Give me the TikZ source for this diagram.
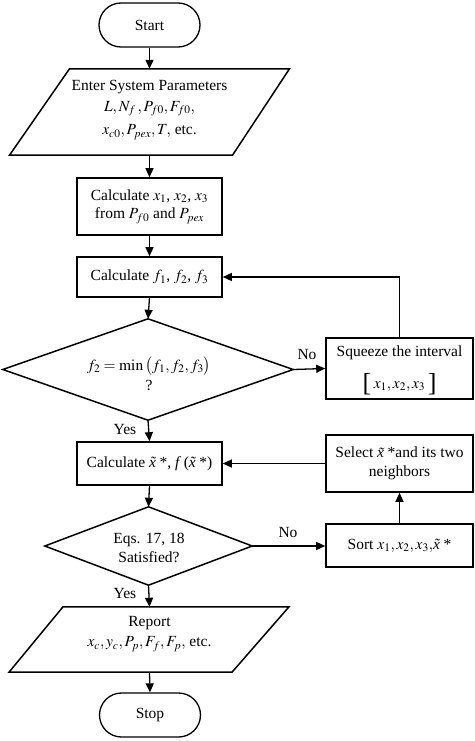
\documentclass[tikz,border=0pt]{standalone}
\usepackage{mathptmx}
\usepackage{fontspec}
\setmainfont{Liberation Serif}
\usetikzlibrary{arrows.meta}
\newcommand{\fsz}{\fontsize{15.5}{18.5}\selectfont}
\newcommand{\xs}{\textit{x̃}\kern-2.5pt*}
\newcommand{\bigbr}[1]{\raisebox{-3pt}{\fontsize{26}{26}\selectfont #1}}
\begin{document}
\begin{tikzpicture}[x=1pt,y=-1pt,
  every node/.style={font=\fsz, inner sep=0pt, align=center},
  procbox/.style={draw, line width=1.6pt, minimum width=145pt},
  termbox/.style={draw, line width=1.3pt, rounded corners=22pt, minimum width=101pt, minimum height=44pt},
  frame/.style={inner sep=0pt},
  outline/.style={line width=1.5pt, line join=miter},
  arr/.style={line width=1.3pt, -{Triangle[length=9pt,width=8pt]}},
  lbl/.style={font=\fsz}
]
\useasboundingbox (0,0) rectangle (474,741);

% nodes
\node[termbox] (start) at (149.5,25) {Start};

\node[frame, minimum width=222pt, minimum height=86pt] (par) at (149.5,112) {};
\node (part) at (149.5,110) {Enter System Parameters\\[2pt] $L, N_f\,, P_{f0}, F_{f0},$\\[5pt] $x_{c0}, P_{pex}, T,$ etc.};

\node[procbox, minimum height=57pt] (calc1) at (149.5,206.5) {Calculate $x_1$, $x_2$, $x_3$\\ from $P_{f0}$ and $P_{pex}$};

\node[procbox, minimum height=40pt] (calcf) at (149.5,277) {Calculate $f_1$, $f_2$, $f_3$};

\node[frame, minimum width=290pt, minimum height=101pt] (d1) at (148,369.5) {};
\node (d1t) at (149,374) {$f_2=\min\big(f_1,f_2,f_3\big)$\\[2pt] ?};

\node[procbox, minimum width=147pt, minimum height=61pt] (sq) at (399.5,368.5) {};
\node (sqa) at (399.5,353) {Squeeze the interval};
\node (sqb) at (399.5,384) {\bigbr{[}\,$x_1,x_2,x_3$\,\bigbr{]}};

\node[procbox, minimum height=43pt] (calcx) at (149.5,463.5) {Calculate \xs, \textit{f}\,(\xs)};

\node[procbox, minimum width=147pt, minimum height=57pt] (sel) at (399.5,463.5) {Select \xs and its two\\[1pt] neighbors};

\node[frame, minimum width=207pt, minimum height=78pt] (d2) at (148.5,546) {};
\node (d2t) at (149,548) {Eqs. 17, 18\\ Satisfied?};

\node[procbox, minimum width=147pt, minimum height=43pt] (sort) at (399.5,545.5) {Sort $x_1,x_2,x_3,$\xs};

\node[frame, minimum width=226pt, minimum height=65pt] (rep) at (149.5,639.5) {};
\node (rept) at (149.5,634) {Report\\[2pt] $x_c, y_c, P_p, F_f, F_p,$ etc.};

\node[termbox] (stop) at (150,715) {Stop};

% outlines
\draw[outline] ([xshift=-80pt]par.north) -- ([xshift=140pt]par.north) -- ([xshift=83pt]par.south) -- ([xshift=-140pt]par.south) -- cycle;
\draw[outline] (d1.north) -- (d1.east) -- (d1.south) -- (d1.west) -- cycle;
\draw[outline] (d2.north) -- (d2.east) -- (d2.south) -- (d2.west) -- cycle;
\draw[outline] ([xshift=-86.5pt]rep.north) -- ([xshift=139.5pt]rep.north) -- ([xshift=82.5pt]rep.south) -- ([xshift=-140.5pt]rep.south) -- cycle;

% labels
\node[lbl] (no1) at (307,354) {No};
\node[lbl] (yes1) at (125,429) {Yes};
\node[lbl] (no2) at (288,532) {No};
\node[lbl] (yes2) at (125,593) {Yes};

% connectors
\draw[arr] (start.south) -- (par.north);
\draw[arr] (par.south) -- (calc1.north);
\draw[arr] (calc1.south) -- (calcf.north);
\draw[arr] (calcf.south) -- (d1.north);
\draw[arr] (d1.east) -- (sq.west);
\draw[arr] (sq.north) |- (calcf.east);
\draw[arr] (d1.south) -- (calcx.north);
\draw[arr] (sel.west) -- (calcx.east);
\draw[arr] (calcx.south) -- (d2.north);
\draw[arr] (d2.east) -- (d2.east -| sort.west);
\draw[arr] (sort.north) -- (sel.south);
\draw[arr] (d2.south) -- (rep.north);
\draw[arr] (rep.south) -- (stop.north);
\end{tikzpicture}
\end{document}
